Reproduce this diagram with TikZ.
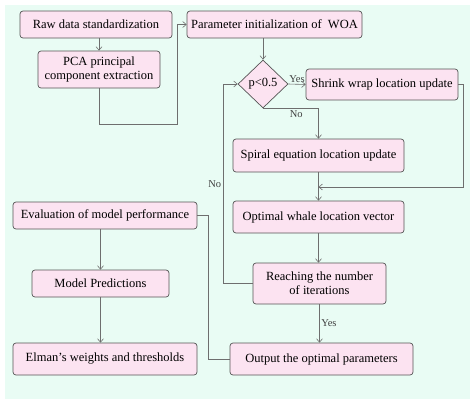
\documentclass[tikz,border=0pt]{standalone}
\usepackage{fontspec}
\setmainfont{Liberation Serif}
\usetikzlibrary{arrows.meta, calc, shapes.geometric}
\definecolor{mint}{HTML}{E9FCF4}
\definecolor{boxpink}{HTML}{FCE3F1}
\definecolor{edge}{HTML}{555555}
\definecolor{wire}{HTML}{6E6E6E}
\tikzstyle{box} = [
    rectangle,
    rounded corners=3pt,
    align=center,
    inner sep=2pt,
    draw=edge,
    line width=0.7pt,
    fill=boxpink,
    font=\fontsize{12.5}{14}\selectfont
]
\tikzstyle{decide} = [
    diamond,
    aspect=1.05,
    inner sep=0pt,
    minimum width=50pt,
    minimum height=48pt,
    draw=edge,
    line width=0.7pt,
    fill=boxpink,
    font=\fontsize{12.5}{14}\selectfont
]
\tikzstyle{arrow} = [wire, line width=0.6pt, ->, >={Straight Barb[length=3.5pt,width=6pt]}]
\tikzstyle{wireline} = [wire, line width=0.6pt]
\tikzstyle{tag} = [text=black!75, font=\fontsize{10.5}{12}\selectfont, inner sep=1.5pt]

\begin{document}
\begin{tikzpicture}[x=1pt, y=1pt, node distance=45pt]
    \useasboundingbox (0,0) rectangle (474,-405);
    \fill[mint] (5,-5) rectangle (470,-399);

    % left column
    \node (raw) [box, minimum width=152pt, minimum height=27pt] at (96,-24.5) {Raw data standardization};
    \node (pca) [box, minimum width=122pt, minimum height=37pt, below of=raw, xshift=3pt] {PCA principal\\component extraction};
    \node (eval) [box, minimum width=184pt, minimum height=27pt] at (105,-215.5) {Evaluation of model performance};
    \node (pred) [box, minimum width=137pt, minimum height=27pt, below of=eval, yshift=-23pt, xshift=-4.5pt] {Model Predictions};
    \node (elman) [box, minimum width=184pt, minimum height=32pt, below of=pred, yshift=-30.5pt, xshift=4.5pt] {Elman’s weights and thresholds};

    % WOA column
    \node (param) [box, minimum width=175pt, minimum height=27pt] at (274.5,-24.5) {Parameter initialization of\ \ WOA};
    \node (dec) [decide] at (263,-84) {p<0.5};
    \node (shrink) [box, minimum width=152pt, minimum height=31pt] at (382,-84.5) {Shrink wrap location update};
    \node (spiral) [box, minimum width=171pt, minimum height=33pt] at (318.5,-155.5) {Spiral equation location update};
    \node (optimal) [box, minimum width=171pt, minimum height=32pt, below of=spiral, yshift=-16.5pt] {Optimal whale location vector};
    \node (reach) [box, minimum width=133pt, minimum height=41pt, below of=optimal, yshift=-21.5pt, xshift=1pt] {Reaching the number\\of iterations};
    \node (output) [box, minimum width=183pt, minimum height=32pt, below of=reach, yshift=-30.5pt, xshift=2pt] {Output the optimal parameters};

    \coordinate (j1) at (177,-124);
    \coordinate (j2) at (463,-187);
    \coordinate (j3) at (223,-84);
    \coordinate (j4) at (208,-359);

    \draw [arrow] (pca.north |- raw.south) -- (pca.north);
    \draw [arrow] (pca.south) |- (j1) |- (param.west);
    \draw [arrow] (param.south -| dec) -- (dec.north);
    \draw [arrow] (dec.east) -- node[tag, above] {Yes} (shrink.west);
    \draw [arrow] (dec.south) -| node[tag, pos=0.3, below] {No} (spiral.north);
    \draw [arrow] (shrink.east) -| (j2) -- (j2 -| spiral);
    \draw [arrow] (spiral.south) -- (optimal.north);
    \draw [arrow] (optimal.south) -- (optimal.south |- reach.north);
    \draw [arrow] (reach.west) -| node[tag, pos=0.75, left] {No} (j3) -- (dec.west);
    \draw [arrow] (reach.south) -- node[tag, right] {Yes} (reach.south |- output.north);
    \draw [wireline] (eval.east) -| (j4) -- (output.west);
    \draw [arrow] (eval.south -| pred) -- (pred.north);
    \draw [arrow] (pred.south) -- (pred.south |- elman.north);
\end{tikzpicture}
\end{document}
